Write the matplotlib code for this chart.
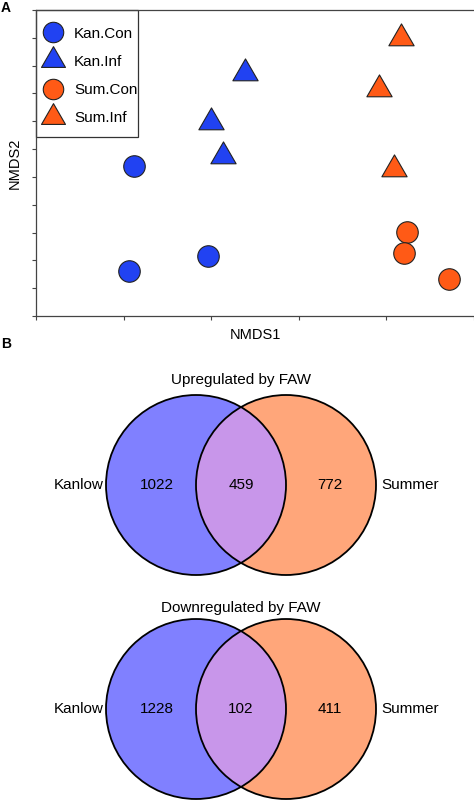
import matplotlib
matplotlib.use("Agg")
import matplotlib.pyplot as plt
from matplotlib.patches import Circle, Rectangle
from matplotlib.path import Path
import numpy as np

plt.rcParams['font.family'] = ['Liberation Sans', 'DejaVu Sans']

# ---------------- data ----------------
groups = ["Kan.Con", "Kan.Inf", "Sum.Con", "Sum.Inf"]
kan_con_x = [-0.138, -0.144, -0.054]
kan_con_y = [-0.010, -0.387, -0.333]
kan_inf_x = [-0.011, -0.050, -0.036]
kan_inf_y = [0.323, 0.149, 0.026]
sum_con_x = [0.173, 0.170, 0.221]
sum_con_y = [-0.249, -0.325, -0.418]
sum_inf_x = [0.167, 0.142, 0.159]
sum_inf_y = [0.449, 0.265, -0.021]

venn_titles = ["Upregulated by FAW", "Downregulated by FAW"]
set_labels = ["Kanlow", "Summer"]
up_counts = [1022, 459, 772]
down_counts = [1228, 102, 411]

# ---------------- figure ----------------
W, H = 474, 801
fig = plt.figure(figsize=(W / 100, H / 100), dpi=100)

def px_axes(x0, y0, x1, y1):
    return fig.add_axes([x0 / W, 1 - y1 / H, (x1 - x0) / W, (y1 - y0) / H])

blue = "#2142F2"
orange = "#FF5A16"
tri = Path([(-1, -0.577), (1, -0.577), (0, 1.155), (-1, -0.577)],
           [Path.MOVETO, Path.LINETO, Path.LINETO, Path.CLOSEPOLY])

axA = px_axes(36, 10, 474, 316)
series = [(kan_con_x, kan_con_y, 'o', blue, 15.5),
          (kan_inf_x, kan_inf_y, tri, blue, 21),
          (sum_con_x, sum_con_y, 'o', orange, 15.5),
          (sum_inf_x, sum_inf_y, tri, orange, 21)]
for name, (xs, ys, mk, col, ms) in zip(groups, series):
    axA.plot(xs, ys, linestyle='none', marker=mk, markersize=ms,
             markerfacecolor=col, markeredgecolor="#222222",
             markeredgewidth=0.8, label=name, clip_on=False)
axA.set_xlim(-0.25, 0.25)
axA.set_ylim(-0.55, 0.55)
axA.set_xticks(np.arange(-0.25, 0.2501, 0.1))
axA.set_yticks(np.arange(-0.55, 0.5501, 0.1))
axA.set_xticklabels([])
axA.set_yticklabels([])
axA.tick_params(length=3, width=0.8, color="#444444")
for s in axA.spines.values():
    s.set_color("#444444")
    s.set_linewidth(0.9)
axA.spines['right'].set_visible(False)
axA.set_xlabel("NMDS1", fontsize=10.5, labelpad=2)
axA.set_ylabel("NMDS2", fontsize=10.5, labelpad=4)
leg = axA.legend(loc='upper left', bbox_to_anchor=(0, 1 - 9.5 / 306), borderaxespad=0,
                 fontsize=11, frameon=False,
                 handletextpad=0.72, labelspacing=0.93, borderpad=0.46,
                 handlelength=1.3, markerscale=0.95)
axA.add_patch(Rectangle((0, (316 - 137) / 306), (138 - 36) / 438, (137 - 10) / 306,
                        transform=axA.transAxes, fill=False,
                        edgecolor="#333333", linewidth=0.9, clip_on=False))

fig.text(1 / W, 1 - 8 / H, "A", fontsize=10, fontweight='bold', va='center', ha='left')
fig.text(1 / W, 1 - 344 / H, "B", fontsize=10, fontweight='bold', va='center', ha='left')

# ---------------- Venn ----------------
axB = px_axes(0, 350, W, H)
axB.set_xlim(0, W)
axB.set_ylim(H, 350)
axB.axis('off')

vblue = "#8080FF"
vorange = "#FFA67A"
vpurple = "#C896EA"
r = 90
cx = [196, 286]
label_x = [79, 410]
count_x = [157, 241, 330]
centers_y = [485, 709]
title_y = [380, 608]

for cy, ty, title, counts in zip(centers_y, title_y, venn_titles, [up_counts, down_counts]):
    c1 = Circle((cx[0], cy), r, facecolor=vblue, edgecolor='none', clip_on=False)
    c2 = Circle((cx[1], cy), r, facecolor=vorange, edgecolor='none', clip_on=False)
    axB.add_patch(c1)
    axB.add_patch(c2)
    ov = Circle((cx[0], cy), r, facecolor=vpurple, edgecolor='none')
    axB.add_patch(ov)
    clipc = Circle((cx[1], cy), r, transform=axB.transData)
    ov.set_clip_path(clipc)
    for x in cx:
        axB.add_patch(Circle((x, cy), r, facecolor='none', edgecolor='black',
                             linewidth=1.3, clip_on=False))
    axB.text((cx[0] + cx[1]) / 2, ty, title, fontsize=11, ha='center', va='center')
    for lx, lab in zip(label_x, set_labels):
        axB.text(lx, cy, lab, fontsize=11, ha='center', va='center')
    for x, c in zip(count_x, counts):
        axB.text(x, cy, str(c), fontsize=11, ha='center', va='center')

fig.savefig("out.png", dpi=100)
